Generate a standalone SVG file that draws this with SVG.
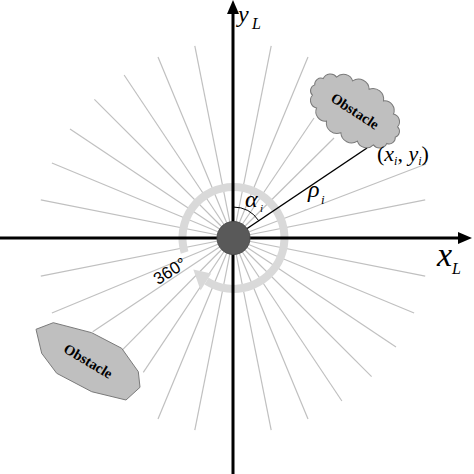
<svg xmlns="http://www.w3.org/2000/svg" width="474" height="474" viewBox="0 0 474 474">
<defs>
<style>
.ray{stroke:#c0c0c0;stroke-width:1.2;fill:none}
.axis{stroke:#000;stroke-width:3;fill:none}
.obs{fill:#bfbfbf;stroke:#7a7a7a;stroke-width:1}
.obstxt{font-family:"Liberation Serif",serif;font-weight:bold;font-size:14.5px;fill:#000;text-anchor:middle}
.math{font-family:"Liberation Serif",serif;font-style:italic;fill:#000}
.up{font-style:normal}
</style>
<marker id="axisArrow" markerUnits="userSpaceOnUse" markerWidth="14" markerHeight="12" viewBox="0 0 14 12" refX="2" refY="6" orient="auto">
<path d="M0,0 L14,6 L0,12 Z" fill="#000"/>
</marker>
</defs>
<rect width="474" height="474" fill="#fff"/>
<g id="connectors">
<g id="rays">
<line class="ray" x1="233" y1="238" x2="425.2" y2="276.2"/>
<line class="ray" x1="233" y1="238" x2="414.1" y2="313"/>
<line class="ray" x1="233" y1="238" x2="396" y2="346.9"/>
<line class="ray" x1="233" y1="238" x2="371.6" y2="376.6"/>
<line class="ray" x1="233" y1="238" x2="341.9" y2="401"/>
<line class="ray" x1="233" y1="238" x2="308" y2="419.1"/>
<line class="ray" x1="233" y1="238" x2="271.2" y2="430.2"/>
<line class="ray" x1="233" y1="238" x2="40.8" y2="276.2"/>
<line class="ray" x1="233" y1="238" x2="51.9" y2="313"/>
<line class="ray" x1="233" y1="238" x2="92.7" y2="331.7"/>
<line class="ray" x1="233" y1="238" x2="121.7" y2="350.7"/>
<line class="ray" x1="233" y1="238" x2="143.3" y2="372.3"/>
<line class="ray" x1="233" y1="238" x2="158" y2="419.1"/>
<line class="ray" x1="233" y1="238" x2="194.8" y2="430.2"/>
<line class="ray" x1="233" y1="238" x2="40.8" y2="199.8"/>
<line class="ray" x1="233" y1="238" x2="51.9" y2="163"/>
<line class="ray" x1="233" y1="238" x2="70" y2="129.1"/>
<line class="ray" x1="233" y1="238" x2="94.4" y2="99.4"/>
<line class="ray" x1="233" y1="238" x2="124.1" y2="75"/>
<line class="ray" x1="233" y1="238" x2="158" y2="56.9"/>
<line class="ray" x1="233" y1="238" x2="194.8" y2="45.8"/>
<line class="ray" x1="233" y1="238" x2="271.2" y2="45.8"/>
<line class="ray" x1="233" y1="238" x2="308" y2="56.9"/>
<line class="ray" x1="233" y1="238" x2="314" y2="118"/>
<line class="ray" x1="233" y1="238" x2="334" y2="138"/>
<line class="ray" x1="233" y1="238" x2="426" y2="164"/>
<line class="ray" x1="233" y1="238" x2="425.2" y2="199.8"/>
</g>
<g id="ring">
<path d="M184.6,252.5 A51,51 0 1 1 206.5,281.2" fill="none" stroke="#d9d9d9" stroke-width="8"/>
<polygon points="211.2,273.6 200.6,290.6 193.3,269.4" fill="#d9d9d9"/>
</g>
<line id="rho-ray" x1="233" y1="238" x2="367" y2="148" stroke="#000" stroke-width="1.5"/>
<path id="alpha-arc" d="M233,207 A31,31 0 0 1 258.8,220.8" fill="none" stroke="#000" stroke-width="1"/>
<line id="x-axis" class="axis" x1="0" y1="238" x2="460" y2="238" marker-end="url(#axisArrow)"/>
<line id="y-axis" class="axis" x1="233" y1="474" x2="233" y2="12" marker-end="url(#axisArrow)"/>
</g>
<g id="robot">
<circle cx="233.5" cy="238" r="16.5" fill="#595959" stroke="#4a4a4a" stroke-width="1"/>
</g>
<g id="obstacle-cloud">
<g transform="translate(355,111) rotate(33)">
<path class="obs" d="M48,0 A6.2,6.2 0 0 1 44.3,9.95 A7.8,7.8 0 0 1 33.9,18.4 A9.6,9.6 0 0 1 18.4,24 A10.7,10.7 0 0 1 0,26 A10.7,10.7 0 0 1 -18.4,24 A9.6,9.6 0 0 1 -33.9,18.4 A7.8,7.8 0 0 1 -44.3,9.95 A6.2,6.2 0 0 1 -48,0 A6.2,6.2 0 0 1 -44.3,-9.95 A7.8,7.8 0 0 1 -33.9,-18.4 A9.6,9.6 0 0 1 -18.4,-24 A10.7,10.7 0 0 1 0,-26 A10.7,10.7 0 0 1 18.4,-24 A9.6,9.6 0 0 1 33.9,-18.4 A7.8,7.8 0 0 1 44.3,-9.95 A6.2,6.2 0 0 1 48,0 Z"/>
<text class="obstxt" x="0" y="5">Obstacle</text>
</g>
</g>
<g id="obstacle-polygon">
<polygon class="obs" points="36,329.3 53.3,322.7 91.7,332.7 121.7,348.3 138.3,371.7 140,387.3 126,400 91.7,391.7 56.7,373.3 41.7,353.3"/>
<text class="obstxt" x="88.3" y="366" transform="rotate(31 88.3 361)">Obstacle</text>
</g>
<g id="labels">
<text class="math" x="238" y="22" font-size="24">y<tspan font-size="16" x="252" y="29">L</tspan></text>
<text class="math" x="437" y="266" font-size="34">x<tspan font-size="16" x="452" y="274">L</tspan></text>
<text class="math" x="245" y="207" font-size="24">α<tspan font-size="11" x="260" y="212">i</tspan></text>
<text class="math" x="308" y="197" font-size="24">ρ<tspan font-size="13" x="321" y="204">i</tspan></text>
<text class="math" x="377" y="161" font-size="22"><tspan class="up">(</tspan>x<tspan font-size="12" dy="4">i</tspan><tspan class="up" dy="-4">, </tspan>y<tspan font-size="12" dy="4">i</tspan><tspan class="up" dy="-4">)</tspan></text>
<text x="173" y="276" font-family="'Liberation Sans',sans-serif" font-size="17" text-anchor="middle" transform="rotate(-32 173 276)">360°</text>
</g>
</svg>
